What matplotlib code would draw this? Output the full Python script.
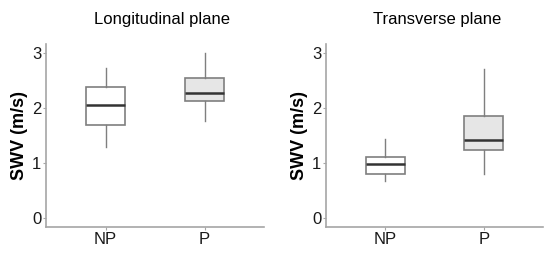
import matplotlib
matplotlib.use("Agg")
import matplotlib.pyplot as plt

# ==========================================================
# DATA
# ==========================================================

groups = ["NP", "P"]

long_low = [1.29, 1.77]
long_q1 = [1.69, 2.14]
long_med = [2.06, 2.28]
long_q3 = [2.38, 2.55]
long_high = [2.73, 3.00]

trans_low = [0.68, 0.80]
trans_q1 = [0.81, 1.24]
trans_med = [0.98, 1.43]
trans_q3 = [1.12, 1.86]
trans_high = [1.45, 2.71]

titles = ["Longitudinal plane", "Transverse plane"]
title_x = [0.53, 0.51]
fills = ["white", "#e6e6e6"]

plt.rcParams["font.family"] = ["Liberation Sans", "DejaVu Sans"]

fig = plt.figure(figsize=(5.5, 2.54), dpi=100)

ax1 = fig.add_axes([0.084, 0.106, 0.396, 0.721])
ax2 = fig.add_axes([0.593, 0.106, 0.394, 0.721])

panels = [
    (ax1, long_low, long_q1, long_med, long_q3, long_high),
    (ax2, trans_low, trans_q1, trans_med, trans_q3, trans_high),
]

for i, (ax, lo, q1, med, q3, hi) in enumerate(panels):

    stats = []
    for k in range(len(groups)):
        stats.append({
            "whislo": lo[k], "q1": q1[k], "med": med[k],
            "q3": q3[k], "whishi": hi[k], "fliers": [],
            "label": groups[k],
        })

    bp = ax.bxp(
        stats,
        positions=[1, 2],
        widths=0.4,
        showcaps=False,
        patch_artist=True,
        boxprops=dict(edgecolor="#7f7f7f", linewidth=1.2),
        whiskerprops=dict(color="#7f7f7f", linewidth=1.0),
        medianprops=dict(color="#333333", linewidth=1.8),
    )

    for patch, c in zip(bp["boxes"], fills):
        patch.set_facecolor(c)

    ax.set_xlim(0.4, 2.6)
    ax.set_ylim(-0.16, 3.17)
    ax.set_yticks([0, 1, 2, 3])
    ax.set_xticks([1, 2])
    ax.set_xticklabels(groups)

    for s in ["top", "right"]:
        ax.spines[s].set_visible(False)
    for s in ["left", "bottom"]:
        ax.spines[s].set_color("#a6a6a6")
        ax.spines[s].set_linewidth(1.2)

    ax.tick_params(colors="#a6a6a6", labelcolor="#1a1a1a",
                   labelsize=12, length=2, width=0.8, pad=1.5)

    ax.set_ylabel("SWV (m/s)", fontsize=13, fontweight="bold", labelpad=3)
    ax.set_title(titles[i], fontsize=12, x=title_x[i], pad=14)

fig.savefig("out.png", dpi=100)
